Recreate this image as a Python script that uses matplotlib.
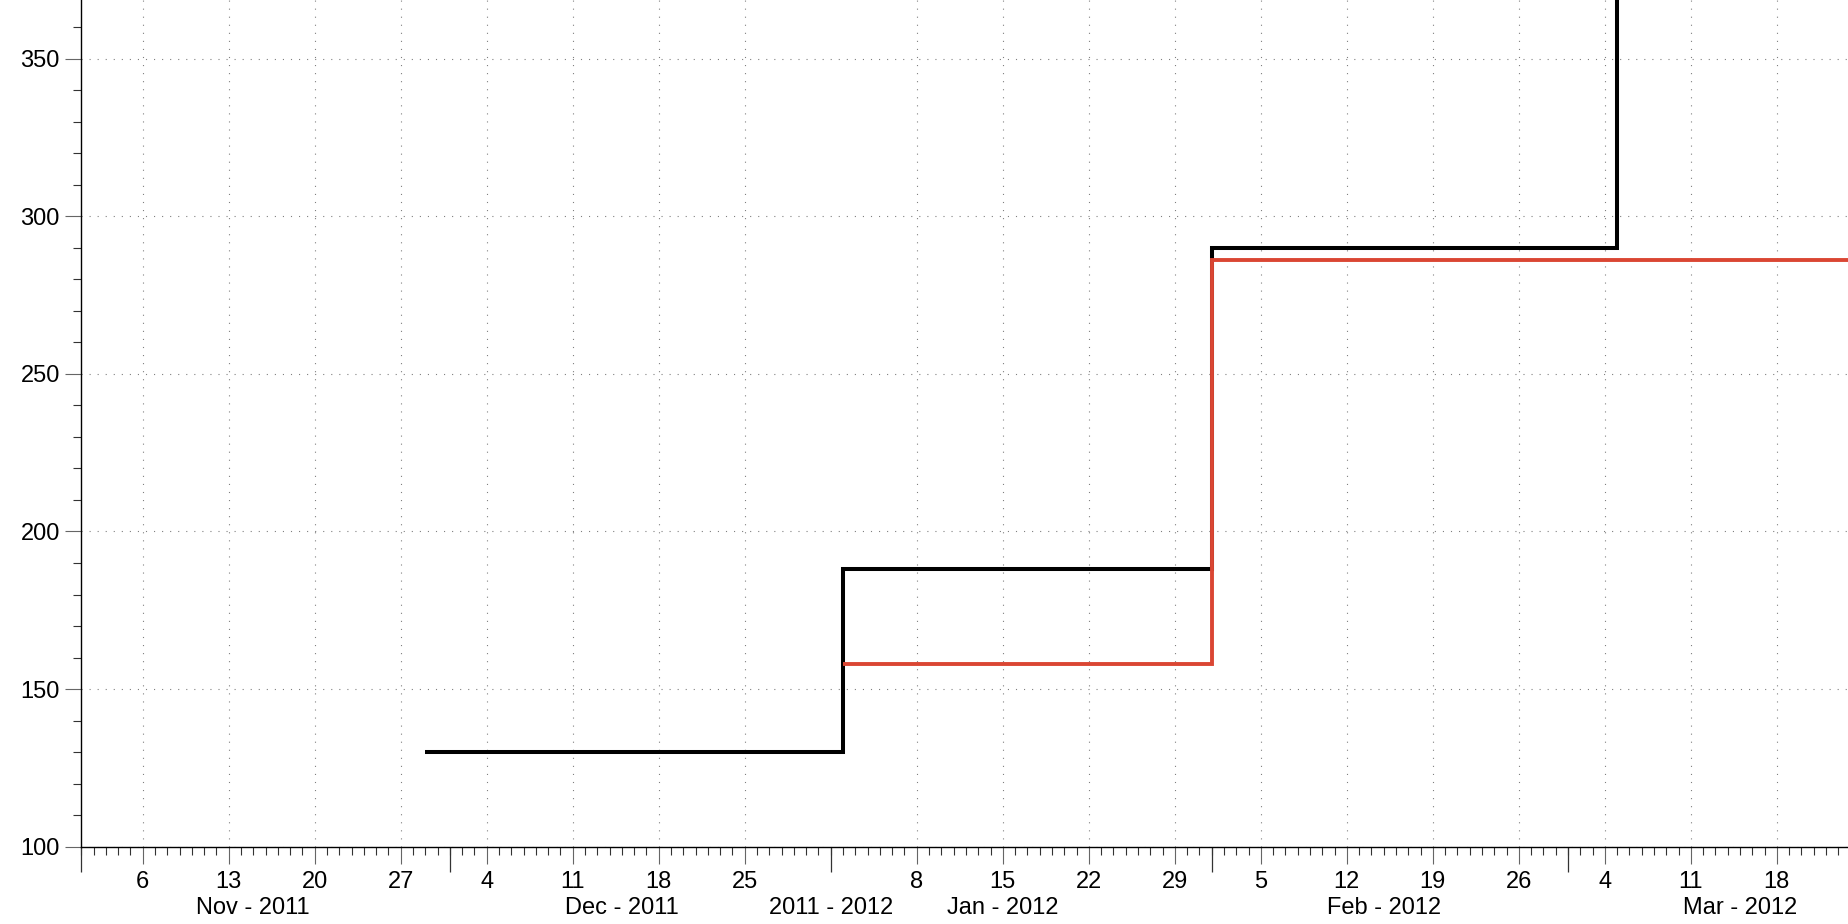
import matplotlib
matplotlib.use("Agg")
import matplotlib.pyplot as plt
import matplotlib.dates as mdates
import matplotlib.ticker as mticker
import pandas as pd

plt.rcParams["font.family"] = ["Liberation Sans", "DejaVu Sans"]
plt.rcParams["lines.scale_dashes"] = False

# step series (value holds until the next date)
black_dates = ["2011-11-29", "2012-01-02", "2012-02-01", "2012-03-05", "2012-03-31"]
black_values = [130, 188, 290, 420, 420]
red_dates = ["2012-01-02", "2012-02-01", "2012-03-31"]
red_values = [158, 286, 286]

# month axis
month_starts = ["2011-11-01", "2011-12-01", "2012-01-01", "2012-02-01", "2012-03-01"]
month_start_labels = ["", "", "2011 - 2012", "", ""]
month_mids = ["2011-11-15", "2011-12-15", "2012-01-15", "2012-02-15", "2012-03-15"]
month_labels = ["Nov - 2011", "Dec - 2011", "Jan - 2012", "Feb - 2012", "Mar - 2012"]

x_start, x_end = "2011-11-01", "2012-03-23 19:00"
y_min, y_max = 100, 368.6

fig = plt.figure(figsize=(18.48, 9.24), dpi=100)
ax = fig.add_axes([81.3 / 1848, 77.3 / 924, 1 - 81.3 / 1848, 1 - 77.3 / 924])

ax.step(pd.to_datetime(black_dates), black_values, where="post", color="black",
        lw=2.9, solid_capstyle="butt", solid_joinstyle="miter", zorder=3)
ax.step(pd.to_datetime(red_dates), red_values, where="post", color="#DA4633",
        lw=2.8, solid_capstyle="butt", solid_joinstyle="miter", zorder=4)

ax.set_xlim(pd.Timestamp(x_start), pd.Timestamp(x_end))
ax.set_ylim(y_min, y_max)

# weekly (Sunday) ticks, except where the year label sits
weeks = pd.date_range(x_start, x_end, freq="W-SUN")
weeks = [d for d in weeks if not (d.month == 1 and d.day == 1)]
ax.xaxis.set_major_locator(mticker.FixedLocator(mdates.date2num(weeks)))
ax.xaxis.set_minor_locator(mdates.DayLocator())
ax.xaxis.set_major_formatter(mticker.FuncFormatter(lambda v, p: str(mdates.num2date(v).day)))
ax.yaxis.set_major_locator(mticker.MultipleLocator(50))
ax.yaxis.set_minor_locator(mticker.MultipleLocator(10))

ax.tick_params(axis="x", which="major", length=12, width=0.8, color="0.4", pad=5.5, labelsize=17)
ax.tick_params(axis="x", which="minor", length=5.8, width=0.8, color="0.2")
ax.tick_params(axis="y", which="major", length=11.5, width=0.8, color="0.4", pad=4, labelsize=17)
ax.tick_params(axis="y", which="minor", length=6, width=0.8, color="0.2")

ax.grid(True, which="major", color="0.5", lw=0.8, linestyle=(0, (0.8, 5)))
ax.set_axisbelow(True)

for s in ["top", "right"]:
    ax.spines[s].set_visible(False)
for s in ["left", "bottom"]:
    ax.spines[s].set_linewidth(1.0)

sec = ax.secondary_xaxis("bottom")
sec.spines["bottom"].set_visible(False)
sec.set_xticks(mdates.date2num(pd.to_datetime(month_starts)), labels=month_start_labels)
sec.set_xticks(mdates.date2num(pd.to_datetime(month_mids)), labels=month_labels, minor=True)
sec.tick_params(which="major", length=17.8, width=0.9, color="0.2", pad=18.5, labelsize=17)
sec.tick_params(which="minor", length=0, pad=36.5, labelsize=17)

fig.savefig("out.png", dpi=100)
